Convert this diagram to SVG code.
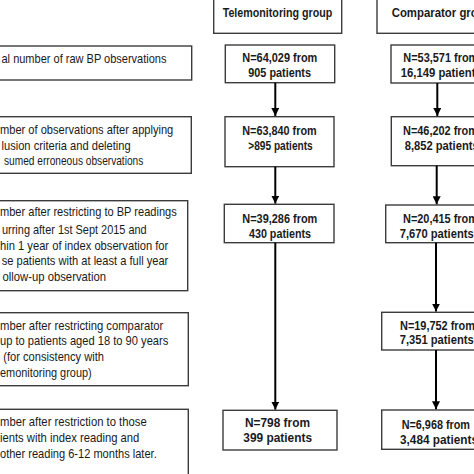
<svg xmlns="http://www.w3.org/2000/svg" width="474" height="474" viewBox="0 0 474 474">
<style>
.box{fill:#fff;stroke:#3c3c3c;stroke-width:1.4}
.t{font-family:"Liberation Sans",Arial,sans-serif;font-size:13px;fill:#1a1a1a}
.b{font-family:"Liberation Sans",Arial,sans-serif;font-size:13px;font-weight:bold;fill:#1a1a1a}
.arr{stroke:#000;stroke-width:2;fill:none;marker-end:url(#ah)}
</style>
<defs>
<marker id="ah" viewBox="0 0 10 10" refX="10" refY="5" markerWidth="4" markerHeight="4" markerUnits="strokeWidth" orient="auto">
<path d="M0,0 L10,5 L0,10 z" fill="#000"/>
</marker>
</defs>
<rect width="474" height="474" fill="#fff"/>

<g id="hdr-tele">
<rect class="box" x="213.7" y="-5" width="128" height="38.3"/>
<text class="b" x="222.7" y="17.3" textLength="109.6" lengthAdjust="spacingAndGlyphs">Telemonitoring group</text>
</g>
<g id="hdr-comp">
<rect class="box" x="377" y="-5" width="110" height="38.3"/>
<text class="b" x="391.7" y="17.3" textLength="100" lengthAdjust="spacingAndGlyphs">Comparator group</text>
</g>

<g id="step1">
<rect class="box" x="-5" y="46" width="196.7" height="34"/>
<text class="t" x="1.5" y="62.6" textLength="165" lengthAdjust="spacingAndGlyphs">al number of raw BP observations</text>
</g>
<g id="step2">
<rect class="box" x="-5" y="116.7" width="196.3" height="56.6"/>
<text class="t" x="0" y="133.9" textLength="173.3" lengthAdjust="spacingAndGlyphs">mber of observations after applying</text>
<text class="t" x="1.5" y="149.6" textLength="129.2" lengthAdjust="spacingAndGlyphs">lusion criteria and deleting</text>
<text class="t" x="4" y="164.9" textLength="139.3" lengthAdjust="spacingAndGlyphs">sumed erroneous observations</text>
</g>
<g id="step3">
<rect class="box" x="-5" y="200.7" width="192.7" height="90"/>
<text class="t" x="0" y="216.3" textLength="176.7" lengthAdjust="spacingAndGlyphs">mber after restricting to BP readings</text>
<text class="t" x="2" y="233.9" textLength="144.7" lengthAdjust="spacingAndGlyphs">urring after 1st Sept 2015 and</text>
<text class="t" x="0" y="250.3" textLength="168.3" lengthAdjust="spacingAndGlyphs">hin 1 year of index observation for</text>
<text class="t" x="1.7" y="265.3" textLength="166.6" lengthAdjust="spacingAndGlyphs">se patients with at least a full year</text>
<text class="t" x="2.5" y="281.3" textLength="103.5" lengthAdjust="spacingAndGlyphs">ollow-up observation</text>
</g>
<g id="step4">
<rect class="box" x="-5" y="312.7" width="193.3" height="73"/>
<text class="t" x="0" y="329.9" textLength="163.3" lengthAdjust="spacingAndGlyphs">mber after restricting comparator</text>
<text class="t" x="0" y="345.3" textLength="168.3" lengthAdjust="spacingAndGlyphs">up to patients aged 18 to 90 years</text>
<text class="t" x="3.3" y="360.7" textLength="100.7" lengthAdjust="spacingAndGlyphs">(for consistency with</text>
<text class="t" x="0" y="377.3" textLength="91.7" lengthAdjust="spacingAndGlyphs">emonitoring group)</text>
</g>
<g id="step5">
<rect class="box" x="-5" y="409.3" width="193.3" height="80"/>
<text class="t" x="0" y="426.3" textLength="146.7" lengthAdjust="spacingAndGlyphs">mber after restriction to those</text>
<text class="t" x="0" y="442.3" textLength="139.3" lengthAdjust="spacingAndGlyphs">ients with index reading and</text>
<text class="t" x="0" y="457.9" textLength="156.7" lengthAdjust="spacingAndGlyphs">other reading 6-12 months later.</text>
</g>

<g id="tele1">
<rect class="box" x="225.3" y="45" width="109.4" height="37.7"/>
<text class="b" x="242.3" y="61.7" textLength="75" lengthAdjust="spacingAndGlyphs">N=64,029 from</text>
<text class="b" x="248.3" y="77.3" textLength="62.7" lengthAdjust="spacingAndGlyphs">905 patients</text>
</g>
<g id="tele2">
<rect class="box" x="225" y="116.7" width="109" height="50"/>
<text class="b" x="242.3" y="134.7" textLength="74.4" lengthAdjust="spacingAndGlyphs">N=63,840 from</text>
<text class="b" x="248.3" y="150.3" textLength="64.4" lengthAdjust="spacingAndGlyphs">&gt;895 patients</text>
</g>
<g id="tele3">
<rect class="box" x="224.3" y="204.3" width="109.7" height="38.4"/>
<text class="b" x="242.3" y="222.6" textLength="75" lengthAdjust="spacingAndGlyphs">N=39,286 from</text>
<text class="b" x="249" y="238" textLength="62" lengthAdjust="spacingAndGlyphs">430 patients</text>
</g>
<g id="tele5">
<rect class="box" x="223" y="410.3" width="114" height="39.7"/>
<text class="b" x="245" y="427" textLength="65" lengthAdjust="spacingAndGlyphs">N=798 from</text>
<text class="b" x="243.3" y="442.3" textLength="68.7" lengthAdjust="spacingAndGlyphs">399 patients</text>
</g>

<g id="comp1">
<rect class="box" x="391" y="45" width="95" height="38"/>
<text class="b" x="403.3" y="61.7" textLength="75" lengthAdjust="spacingAndGlyphs">N=53,571 from</text>
<text class="b" x="400.7" y="77.3" textLength="81" lengthAdjust="spacingAndGlyphs">16,149 patients</text>
</g>
<g id="comp2">
<rect class="box" x="391.3" y="116.7" width="95" height="49"/>
<text class="b" x="403" y="134.7" textLength="75" lengthAdjust="spacingAndGlyphs">N=46,202 from</text>
<text class="b" x="404.7" y="150.3" textLength="74" lengthAdjust="spacingAndGlyphs">8,852 patients</text>
</g>
<g id="comp3">
<rect class="box" x="385.7" y="205" width="100" height="37.7"/>
<text class="b" x="403" y="222.6" textLength="75" lengthAdjust="spacingAndGlyphs">N=20,415 from</text>
<text class="b" x="399.7" y="238" textLength="74" lengthAdjust="spacingAndGlyphs">7,670 patients</text>
</g>
<g id="comp4">
<rect class="box" x="381.7" y="312.3" width="104" height="37.7"/>
<text class="b" x="400" y="329.7" textLength="75" lengthAdjust="spacingAndGlyphs">N=19,752 from</text>
<text class="b" x="399.7" y="344.3" textLength="74" lengthAdjust="spacingAndGlyphs">7,351 patients</text>
</g>
<g id="comp5">
<rect class="box" x="381.7" y="410" width="104" height="39.3"/>
<text class="b" x="401.7" y="428.9" textLength="68.3" lengthAdjust="spacingAndGlyphs">N=6,968 from</text>
<text class="b" x="400" y="443.7" textLength="78" lengthAdjust="spacingAndGlyphs">3,484 patients</text>
</g>

<g id="connectors">
<line class="arr" x1="275.3" y1="82.7" x2="275.3" y2="116"/>
<line class="arr" x1="275.3" y1="166.7" x2="275.3" y2="203.6"/>
<line class="arr" x1="275.3" y1="242.7" x2="275.3" y2="409.6"/>
<line class="arr" x1="437.3" y1="83" x2="437.3" y2="116"/>
<line class="arr" x1="436.7" y1="165.7" x2="436.7" y2="204.3"/>
<line class="arr" x1="436" y1="242.7" x2="436" y2="311.6"/>
<line class="arr" x1="436" y1="350" x2="436" y2="409.3"/>
</g>
</svg>
